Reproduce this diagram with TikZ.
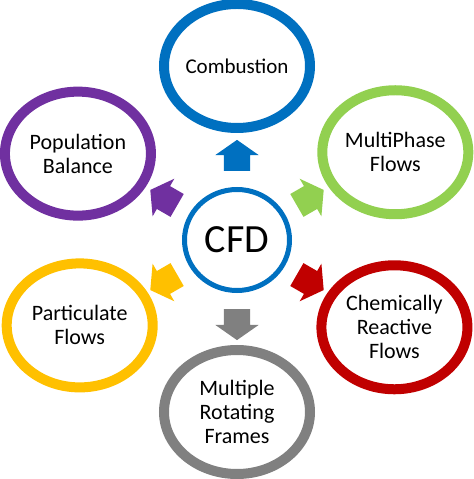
\documentclass[tikz,border=0pt]{standalone}
\usepackage{fontspec}
\setmainfont{Carlito}
\usetikzlibrary{positioning, calc, shapes.geometric, shapes.arrows}
\definecolor{cfdblue}{RGB}{0,112,192}
\definecolor{cfdgreen}{RGB}{146,208,80}
\definecolor{cfdpurple}{RGB}{112,48,160}
\definecolor{cfdyellow}{RGB}{255,192,0}
\definecolor{cfdred}{RGB}{192,0,0}
\definecolor{cfdgray}{RGB}{128,128,128}
\tikzset{
ring/.style={%
    ellipse,
    draw=#1,
    line width=10bp,
    minimum width=146bp,
    minimum height=124bp,
    inner sep=0pt,
    align=center,
    text=black,
    font=\fontsize{22bp}{24bp}\selectfont
},
hub/.style={%
    ellipse,draw=cfdblue,line width=5bp,minimum width=105bp,minimum height=101bp,
    inner sep=0pt,font=\fontsize{40bp}{48bp}\selectfont
},
blockarrow/.style={%
    single arrow,fill=#1,draw=none,inner xsep=0pt,inner ysep=13bp,
    minimum height=31bp,
    single arrow head extend=8.5bp,single arrow tip angle=110
},
}

\begin{document}
\begin{tikzpicture}[x=1bp,y=1bp]
\useasboundingbox (-237,-239) rectangle (237,240);

\node[hub] (cfd) at (0,0) {CFD};
\node[ring=cfdblue,font=\fontsize{21bp}{24bp}\selectfont] (comb) at (90:174) {Combustion};
\node[ring=cfdgreen] (multi) at (29:181) {MultiPhase\\Flows};
\node[ring=cfdpurple] (pop) at (151.5:181) {Population\\Balance};
\node[ring=cfdyellow] (part) at (208.5:179) {Particulate\\Flows};
\node[ring=cfdred] (chem) at (331:180) {Chemically\\Reactive\\Flows};
\node[ring=cfdgray] (mrf) at (270:172) {Multiple\\Rotating\\Frames};

\node[blockarrow=cfdblue,rotate=90] (tocomb) at (90:80) {};
\node[blockarrow=cfdgreen,rotate=30] (tomulti) at (30:80) {};
\node[blockarrow=cfdpurple,rotate=150] (topop) at (150:80) {};
\node[blockarrow=cfdyellow,rotate=210] (topart) at (210:80) {};
\node[blockarrow=cfdred,rotate=330] (tochem) at (330:80) {};
\node[blockarrow=cfdgray,rotate=270] (tomrf) at (270:80) {};

\end{tikzpicture}
\end{document}
